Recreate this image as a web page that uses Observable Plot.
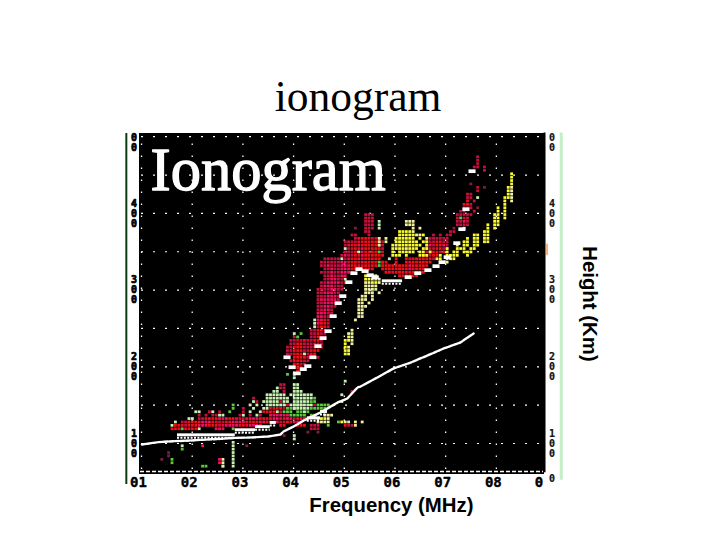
<!DOCTYPE html>
<html>
<head>
<meta charset="utf-8">
<script src="https://cdn.jsdelivr.net/npm/d3@7"></script>
<script src="https://cdn.jsdelivr.net/npm/@observablehq/plot@0.6"></script>
<style>
html,body{margin:0;padding:0;background:#fff;width:720px;height:540px;overflow:hidden}
h1{margin:0;height:125px;box-sizing:border-box;padding-top:72px;padding-right:4px;text-align:center;font:normal 43.5px/48px "Liberation Serif",serif;color:#000}
svg{display:block}
</style>
</head>
<body>
<h1>ionogram</h1>
<div id="chart"></div>
<script>
// sounder grid: channel -> MHz, range gate -> km
const channelOrigin = 0.98, channelStep = 0.067;
const gateOrigin = 501.6, gateStep = 4.433;

// echo cells: [range gate, first channel, cell kinds]
const upperEcho = [
[6,99,"k"],[7,99,"k"],[8,99,"k"],[9,98,"kk k"],[10,101,"k"],[14,97,"m"],[15,99,"k m"],[16,99,"k"],
[17,96,"kk"],[18,96,"kk l"],[19,96,"r k"],[20,95,"rrk"],[21,95,"kkk m"],[22,94,"kk  k"],[23,93,"kkkkk"],
[24,93,"kgkk"],[25,93,"kkpk"],[26,93,"kkkk"],[27,92,"m  l"],[28,91,"kk"],[29,86,"k k k"],[29,91,"k"],
[30,85,"kkkkkk"],[31,84,"kkkrrkk"],[32,84,"kpkrrpk"],[33,84,"pkkrrkk"],[34,84,"kkrrkr"],[35,83,"rkkrr"],
[36,75,"r"],[36,78,"rkrrrr"],[36,84,"rrk"],[37,71,"rr  r  rrrrrrrr"],[38,71,"rrrrrrrrprrrrr"],
[39,71,"rrrrrrrrprrrr"],[40,72,"rrrrrrrrrrrr"],[41,76,"rrrrrr"],
[23,66,"kkk"],[24,66,"kkk"],[25,66,"kkk l"],[26,66,"kkk l"],[27,63,"m  kkk l"],[28,66,"kk"],[29,62,"kk   k"],
[30,63,"krrrrkkk"],[31,60,"kkkkrrrrrrrk"],[32,60,"krrrprrrrrrk"],[33,60,"lkkrrprrrrrk"],[34,60,"kkkrlprrrrgk"],
[35,59,"kpkkrrprrrrrr"],[36,54,"kkkkklkrrrprrrrrr  l"],[37,53,"kkkkkkppkrrrprrrrgr"],[38,53,"kkpkkkpprrrrrrrrrg"],
[39,54,"kkpkkppprrrrrrr"],[40,53,"kkkpkkpppr"],[41,54,"kkpkkpp"],[42,54,"kkppkkl"],[43,53,"kkppppkk"],[44,53,"kpppkkk"],
[45,52,"kkkkppkk"],[46,52,"kkpppkk"],[47,52,"kkkpppk"],[48,52,"kpppppk"],[49,52,"kkpppk"],[50,52,"kkppkk"],
[51,52,"kkppk"],[52,52,"pppkk"],[53,52,"pprkk"],[54,51,"lpprk"],[55,51,"lprrk"],[56,51,"lkrrk"],[57,50,"kkrrk"],
[58,45,"l g  kkrkk"],[59,45,"kg   kkrkk"],[60,44,"kkkkrkkrrk"],[61,44,"kkrrkkkrrk"],[62,43,"kkrrrkkkrrk"],
[63,43,"kkrrrkkrrr"],[64,43,"kkrrrlkrr"],[65,43,"l rrrrkkkk"],[66,44,"krrrkk"],[67,45,"rrkk"],[68,45,"krr"],
[69,46,"r"],[70,43,"g l"],[71,45,"l"]
];
const yellowEcho = [
[11,109,"y"],[12,109,"y"],[13,109,"y"],[14,109,"y"],[15,108,"ye"],[16,108,"ye"],[17,108,"ye"],[18,107,"yye"],
[19,107,"y e"],[20,107,"y"],[21,105,"y y"],[22,105,"y y"],[23,104,"yy y"],[24,104,"yy y"],[25,104,"yy"],
[26,102,"y yy"],[27,102,"y y"],[28,101,"yy"],[29,98,"yy yy"],[30,96,"y yy yy"],[31,95,"yy yy yy"],
[32,93,"y yy yy"],[33,90,"y  yyy yy"],[34,90,"y yy yyy"],[35,90,"yyyy  y"],[36,90,"yyy"],
[25,78,"eee"],[26,78,"eee"],[27,80,"e e"],[28,76,"yyyye"],[29,76,"yyyyyeey"],[30,75,"yyyyyy y e"],
[31,75,"yyyyyyy yy"],[32,74,"yeyyyyyyy y"],[33,74,"yyyyeyyy yy"],[34,74,"y yyyyy yy y"],[35,74,"yyy y   yyy"],
[30,70,"e e"],[31,70,"e e"],[32,70,"e"],[35,88,"y"],[36,87,"yy"],[37,88,"e e"],
[41,66,"yyye"],[42,66,"yyyye"],[43,66,"eeyye"],[44,66,"eeee"],[45,66,"eeel"],[46,66,"eee e"],[47,65,"ee e"],
[48,64,"eee e"],[49,64,"ee e"],[50,64,"eee"],[51,64,"ee"],[52,64,"ee"],[53,64,"ee"],[54,63,"e"],
[57,62,"e"],[58,61,"ee"],[59,61,"ye"],[60,60,"yye"],[61,60,"y e"],[62,60,"ye"],[63,60,"yy"],[64,60,"yy"]
];
const lowerEcho = [
[72,60,"l"],[73,41,"kk"],[73,45,"ll"],[74,40,"lkk"],[74,45,"ll"],[75,39,"ll k"],[75,45,"lll"],[75,62,"k"],
[76,37,"llllll l"],[76,45,"llllll"],[76,59,"l"],[77,33,"k"],[77,37,"lllllll"],[77,45,"llllllg"],[78,33,"lk lllllkll"],
[78,45,"lllllgg"],[78,59,"l"],[79,27,"g    l l  llllllkllll"],[79,45,"llllllkgggg"],
[80,27,"g  k  l  llkrrrkggl"],[80,45,"lllllggggg"],[81,16,"ll  kl k  g   k l  lkrrrlkggg"],[81,46,"gglg"],
[82,17,"k k kkll    kl k lk  ppppppggggg"],[82,50,"gg  eee"],
[83,14,"ll kkrrrrppprrrkkrppprrrrpprrppkrppprrr"],[83,48,"rrr"],[83,52,"yyye"],
[84,10,"l kkrrrrppprrkkrrpppprrrrpprrppkkrrppr"],[84,52,"eeee"],[84,58,"gyel"],[84,63,"e e"],
[85,9,"lrrrkrrrppprrrkrpppprrrpppr"],[85,41,"rr"],[85,46,"rrr"],[85,50,"kkk"],[85,55,"g"],[85,60,"rkk"],[85,63,"e"],
[86,9,"rrrgrrrrl    ppp  g"],[86,50,"kkk"],[87,49,"m  m"],[88,42,"m"],[88,45,"l"],
[91,12,"l     p            m"],[92,12,"g"],[89,45,"l"],[90,27,"l"],[91,27,"l"],[92,27,"l"],[93,8,"m"],[93,27,"l"],[94,8,"m"],
[94,27,"l"],[95,6,"m  g"],[95,23,"p"],[95,24,"e"],[95,27,"l"],[96,9,"g"],[96,23,"p"],[96,24,"e"],[96,27,"l"],
[97,18,"gg    g  l"],[97,24,"e"]
];
const kindColors = {k:"#c4103c",r:"#ee1018",p:"#f0105e",m:"#782040",y:"#fafa30",e:"#f0f0a0",l:"#c8f2b4",g:"#5cc83c"};

// white traces
const xTraceFreq = [1.01,1.32,1.63,1.97,2.30,2.56,2.85,3.15,3.49,3.74,3.80,4.00,4.20,4.53,4.87,5.06,5.26,5.32,5.65,5.97,6.31,6.64,6.96,7.29,7.55];
const xTraceKm   = [98.7,101.7,103,103.9,105.2,106.1,107.4,107.8,109.1,111.7,115.6,122.2,130,140.4,153.5,158.7,173,174.3,186,197.8,205.6,214.7,223.9,231.7,243.4];
const oLowStart  = [1.71,2.85,3.25,3.54,4.27,4.53,5.75];
const oLowEnd    = [2.85,3.25,3.54,3.66,4.53,4.67,6.15];
const oLowKm     = [110.4,117,121,126.5,132.6,140.8,311.2];
const oHighFreq  = [3.88,3.98,4.08,4.20,4.29,4.39,4.49,4.59,4.69,4.79,4.89,4.98,5.10,5.20,5.30,5.42,5.52,5.62,6.27,6.46,6.66,6.82,6.94,7.04,7.23,7.33,7.41,7.53];
const oHighKm    = [212,199,191,196.5,200.4,212,226.5,236.9,246,265.6,282.5,291.7,309.9,321.6,326.9,324.3,319,316.4,316.4,321.6,325.6,330.8,336,342.5,360.8,379,405,454.6];

// tick labels
const freqGrid = [1,2,3,4,5,6,7,8];
const freqTicks = [1,2,3,4,5,6,7,8,8.9];
const freqLabels = ["01","02","03","04","05","06","07","08","0"];
const kmTicks = [100,200,300,400];
const kmLabels = ["1\n0\n0","2\n0\n0","3\n0\n0","4\n0\n0"];
const kmGrid = [100,150,200,250,300,350,400,450,500];

const cells = [...upperEcho, ...yellowEcho, ...lowerEcho].flatMap(([gate, channel, kinds]) =>
  Array.from(kinds).flatMap((kind, i) => kind === " " ? [] : [{
    f: channelOrigin + (channel + i) * channelStep,
    h: gateOrigin - gate * gateStep,
    kind
  }]));
const xTrace = xTraceFreq.map((f, i) => ({f, h: xTraceKm[i]}));
const oLow = oLowStart.map((f, i) => ({f1: f, f2: oLowEnd[i], h: oLowKm[i]}));
const oHigh = oHighFreq.map((f, i) => ({f, h: oHighKm[i]}));

const mono = "DejaVu Sans Mono";
const leftLabel = {fontFamily: mono, fontWeight: "bold", fontSize: 10, lineHeight: 1, fill: "#000", stroke: "#000", strokeWidth: 0.7};
const rightLabel = {fontFamily: mono, fontWeight: "bold", fontSize: 10, lineHeight: 1, fill: "#111", stroke: "#111", strokeWidth: 0.2};
const plot = Plot.plot({
  width: 720, height: 415,
  marginLeft: 139, marginRight: 177, marginTop: 8, marginBottom: 67,
  x: {domain: [0.96, 8.93], axis: null},
  y: {domain: [60.9, 504.2], axis: null},
  style: {background: "transparent", overflow: "visible"},
  marks: [
    Plot.frame({fill: "#000", stroke: "#000"}),
    // strips beside the panel
    Plot.ruleX([0.70], {y1: 46.5, y2: 504.2, stroke: "#0c3c14", strokeWidth: 2}),
    Plot.ruleX([8.95], {y1: 62, y2: 505, stroke: "#000", strokeWidth: 2}),
    Plot.ruleX([9.28], {y1: 52, y2: 505, stroke: "#c4eec4", strokeWidth: 3}),
    Plot.ruleX([9.0], {y1: 345, y2: 360, stroke: "#f4b080", strokeWidth: 2}),
    // dotted scale grid
    Plot.ruleX(freqGrid, {y1: 66, y2: 504, stroke: "#fff", strokeWidth: 1.3, strokeDasharray: "1.5 10.5"}),
    Plot.ruleY(kmGrid, {x1: 1, x2: 8.9, stroke: "#fff", strokeWidth: 1.2, strokeDasharray: "2 10"}),
    Plot.ruleY([63.5], {x1: 0.98, x2: 8.93, stroke: "#fff", strokeWidth: 1.6, strokeDasharray: "4 2"}),
    // echoes
    Plot.rect(cells, {
      x1: "f", x2: d => d.f + channelStep * 0.84,
      y1: "h", y2: d => d.h - gateStep * 0.8,
      fill: d => kindColors[d.kind]
    }),
    // traces
    Plot.line(xTrace, {x: "f", y: "h", stroke: "#fff", strokeWidth: 2.4, strokeDasharray: "4 1.5", curve: "linear"}),
    Plot.rect(oLow, {x1: "f1", x2: "f2", y1: d => d.h - 1.6, y2: d => d.h + 2.2, fill: "#fff"}),
    Plot.ruleY(oLow, {x1: "f1", x2: "f2", y: d => d.h - 3, stroke: "#fff", strokeWidth: 2, strokeDasharray: "2 1.4"}),
    Plot.rect(oHigh, {x1: d => d.f - 0.07, x2: d => d.f + 0.07, y1: d => d.h - 2.6, y2: d => d.h + 2.2, fill: "#fff"}),
    // in-picture heading
    Plot.text(["Ionogram"], {x: [1.178], y: [430], text: d => d, textAnchor: "start", lineAnchor: "bottom", fill: "#fff", stroke: "#fff", strokeWidth: 1.3, fontFamily: "Liberation Serif", fontSize: 60.5}),
    // height labels, both strips
    Plot.text(kmLabels, {x: [0.85,0.85,0.85,0.85], y: kmTicks, text: d => d, ...leftLabel}),
    Plot.text(kmLabels, {x: [9.1,9.1,9.1,9.1], y: kmTicks, text: d => d, ...rightLabel}),
    Plot.text(["0\n0"], {x: [0.85], y: [492], text: d => d, ...leftLabel}),
    Plot.text(["0\n0"], {x: [9.1], y: [492], text: d => d, ...rightLabel}),
    Plot.text(["0"], {x: [9.1], y: [54], text: d => d, ...rightLabel}),
    // frequency labels
    Plot.text(freqLabels, {x: freqTicks, y: [49,49,49,49,49,49,49,49,49], text: d => d, dx: -3, fontFamily: mono, fontWeight: "bold", fontSize: 14, fill: "#000", stroke: "#000", strokeWidth: 0.4}),
    // axis names
    Plot.text(["Frequency (MHz)"], {x: [5.93], y: [19], text: d => d, fontFamily: "Liberation Sans", fontWeight: "bold", fontSize: 20.4, fill: "#000"}),
    Plot.text(["Height (Km)"], {x: [9.84], y: [282], text: d => d, rotate: 90, fontFamily: "Liberation Sans", fontWeight: "bold", fontSize: 20.4, fill: "#000"})
  ]
});
document.getElementById("chart").append(plot);
</script>
</body>
</html>
